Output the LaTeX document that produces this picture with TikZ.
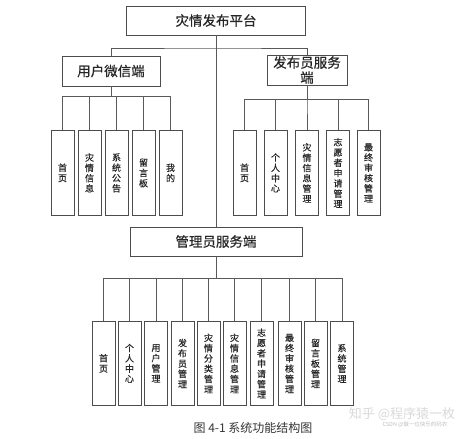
\documentclass[tikz,border=0pt]{standalone}
\usepackage{fontspec}
\newfontfamily\cjk[FakeBold=0.6]{Noto Sans CJK SC}
\newfontfamily\cjkplain{Noto Sans CJK SC}
\usepackage{tikz}
\usetikzlibrary{positioning}

\tikzset{
  box/.style={draw=black!70, line width=0.8pt, inner sep=1pt, align=center,
    font=\cjk\fontsize{13.5}{15}\selectfont, text=black!85},
  leaf/.style={draw=black!70, line width=0.8pt, inner sep=0pt, align=center,
    minimum width=23, minimum height=85, anchor=north,
    font=\cjk\fontsize{9}{10.3}\selectfont, text=black!85},
  link/.style={draw=black!65, line width=0.8pt},
}

\begin{document}
\begin{tikzpicture}[x=1pt, y=-1pt]
    \useasboundingbox (0,0) rectangle (474,439);

    % platform and the three ends
    \node[box, minimum width=179, minimum height=29] (top) at (216,20.5) {灾情发布平台};
    \node[box, minimum width=98, minimum height=30] (user) at (111,71) {用户微信端};
    \node[box, minimum width=80, minimum height=30] (pub) at (307,70) {发布员服务\\端};
    \node[box, minimum width=172, minimum height=29] (admin) at (216,241.5) {管理员服务端};

    \coordinate (bus0) at (216,48);
    \coordinate (ubus) at (0,96);
    \coordinate (pbus) at (0,99);
    \coordinate (abus) at (0,278);

    \draw[link] (top.south) -- (admin.north);
    \draw[link] (user.north) |- (bus0) -| (pub.north);

    % user leaves
    \foreach \x/\t [count=\i] in {62.5/首\\页, 89.5/灾\\情\\信\\息, 116.5/系\\统\\公\\告,
                                  143.5/留\\言\\板, 170.5/我\\的} {
        \node[leaf] (u\i) at (\x,130) {\t};
        \draw[link] (user.south) -- (user.south |- ubus) -| (u\i.north);
    }

    % publisher leaves
    \foreach \x/\t [count=\i] in {244.5/首\\页, 275.5/个\\人\\中\\心, 307/灾\\情\\信\\息\\管\\理,
                                  338/志\\愿\\者\\申\\请\\管\\理, 368.5/最\\终\\审\\核\\管\\理} {
        \node[leaf] (p\i) at (\x,130) {\t};
        \draw[link] (pub.south) -- (pub.south |- pbus) -| (p\i.north);
    }

    % admin leaves
    \foreach \x/\t [count=\i] in {103.5/首\\页, 129.5/个\\人\\中\\心, 156/用\\户\\管\\理,
                                  182.5/发\\布\\员\\管\\理, 208.5/灾\\情\\分\\类\\管\\理,
                                  234.5/灾\\情\\信\\息\\管\\理, 261.5/志\\愿\\者\\申\\请\\管\\理,
                                  289.5/最\\终\\审\\核\\管\\理, 315.5/留\\言\\板\\管\\理,
                                  342/系\\统\\管\\理} {
        \node[leaf, minimum height=84] (a\i) at (\x,321) {\t};
        \draw[link] (admin.south) -- (admin.south |- abus) -| (a\i.north);
    }

    % caption and marks
    \node[font=\cjkplain\fontsize{12}{14}\selectfont, text=black!80] (cap) at (253,428) {图 4-1 系统功能结构图};
    \node[font=\cjkplain\fontsize{13}{15}\selectfont, text=black!15] (wm) at (402,414) {知乎 @程序猿一枚};
    \node[font=\cjkplain\fontsize{5.5}{7}\selectfont, text=black!25] (wm2) at (415,425) {CSDN @做一位快乐的码农};

\end{tikzpicture}
\end{document}
